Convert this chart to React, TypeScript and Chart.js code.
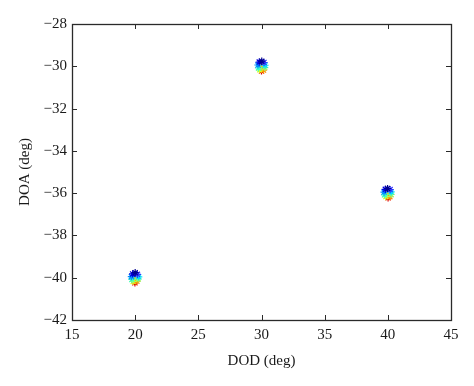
import React, { useEffect, useRef } from "react";
import { Chart, registerables } from "chart.js";

Chart.register(...registerables);

// Axis ranges / ticks
const xTickValues = [15, 20, 25, 30, 35, 40, 45];
const yTickValues = [-42, -40, -38, -36, -34, -32, -30, -28];

// One colour per estimation run (jet-like colormap)
const runColors = [
  "#00008F",
  "#0000DF",
  "#3030FF",
  "#0090FF",
  "#00DFFF",
  "#40FFBF",
  "#90FF70",
  "#DFFF20",
  "#FF9000",
  "#E00000",
  "#FFBF00",
  "#FF6000",
];

// Estimated DOD / DOA for each of the three targets, per run
const dodTarget1 = [20.0, 19.8, 20.18, 19.7, 20.28, 19.74, 20.24, 19.84, 20.14, 19.98, 20.04, 19.96];
const doaTarget1 = [-39.76, -39.82, -39.84, -39.95, -39.96, -40.08, -40.06, -40.18, -40.16, -40.24, -40.0, -39.98];
const dodTarget2 = [30.02, 29.82, 30.2, 29.72, 30.28, 29.76, 30.26, 29.86, 30.16, 30.0, 30.03, 29.97];
const doaTarget2 = [-29.76, -29.8, -29.82, -29.94, -29.95, -30.08, -30.06, -30.17, -30.18, -30.22, -30.0, -29.97];
const dodTarget3 = [39.98, 39.8, 40.18, 39.7, 40.26, 39.74, 40.26, 39.84, 40.16, 40.02, 40.02, 39.97];
const doaTarget3 = [-35.78, -35.82, -35.83, -35.95, -35.94, -36.08, -36.06, -36.16, -36.17, -36.22, -36.01, -35.97];

const FONT = "'Liberation Serif', 'Times New Roman', serif";
const TEXT = "#1a1a1a";

const fmt = (v: number) => String(v).replace("-", "\u2212");

const framePlugin = {
  id: "frame",
  afterDraw(chart: any) {
    const { ctx, chartArea } = chart;
    const { left, right, top, bottom } = chartArea;
    const xs = chart.scales.x;
    const ys = chart.scales.y;
    const tl = 5;
    ctx.save();
    ctx.strokeStyle = "#2a2a2a";
    ctx.lineWidth = 1;
    ctx.beginPath();
    xs.ticks.forEach((t: any) => {
      const px = Math.round(xs.getPixelForValue(t.value)) + 0.5;
      ctx.moveTo(px, bottom);
      ctx.lineTo(px, bottom - tl);
      ctx.moveTo(px, top);
      ctx.lineTo(px, top + tl);
    });
    ys.ticks.forEach((t: any) => {
      const py = Math.round(ys.getPixelForValue(t.value)) + 0.5;
      ctx.moveTo(left, py);
      ctx.lineTo(left + tl, py);
      ctx.moveTo(right, py);
      ctx.lineTo(right - tl, py);
    });
    ctx.stroke();
    ctx.lineWidth = 1.3;
    ctx.strokeRect(Math.round(left) + 0.5, Math.round(top) + 0.5, Math.round(right - left), Math.round(bottom - top));
    ctx.restore();
  },
};

export default function App() {
  const ref = useRef<HTMLCanvasElement | null>(null);

  useEffect(() => {
    if (!ref.current) return;
    const datasets = runColors.map((c, i) => ({
      label: `run ${i + 1}`,
      data: [
        { x: dodTarget1[i], y: doaTarget1[i] },
        { x: dodTarget2[i], y: doaTarget2[i] },
        { x: dodTarget3[i], y: doaTarget3[i] },
      ],
      pointStyle: "star" as const,
      radius: 3.6,
      borderWidth: 1.2,
      borderColor: c,
      backgroundColor: c,
      showLine: false,
    }));

    const chart = new Chart(ref.current, {
      type: "scatter",
      data: { datasets },
      options: {
        animation: false,
        responsive: true,
        maintainAspectRatio: false,
        layout: { padding: { left: 0, right: 23, top: 24, bottom: 0 } },
        plugins: { legend: { display: false }, tooltip: { enabled: false } },
        scales: {
          x: {
            type: "linear",
            min: 15,
            max: 45,
            afterBuildTicks: (s: any) => {
              s.ticks = xTickValues.map((v) => ({ value: v }));
            },
            grid: { display: false, drawTicks: false },
            border: { display: false },
            ticks: {
              padding: 6,
              color: TEXT,
              font: { family: FONT, size: 15 },
              callback: (v: any) => fmt(Number(v)),
              maxRotation: 0,
            },
            title: {
              display: true,
              text: "DOD (deg)",
              color: TEXT,
              font: { family: FONT, size: 15 },
              padding: { top: 0, bottom: 16 },
            },
            afterFit: (s: any) => {
              s.height = 66;
            },
          },
          y: {
            type: "linear",
            min: -42,
            max: -28,
            afterBuildTicks: (s: any) => {
              s.ticks = yTickValues.map((v) => ({ value: v }));
            },
            grid: { display: false, drawTicks: false },
            border: { display: false },
            ticks: {
              padding: 5,
              color: TEXT,
              font: { family: FONT, size: 15 },
              callback: (v: any) => fmt(Number(v)),
            },
            title: {
              display: true,
              text: "DOA (deg)",
              color: TEXT,
              font: { family: FONT, size: 15 },
              padding: { top: 16, bottom: 0 },
            },
            afterFit: (s: any) => {
              s.width = 72;
            },
          },
        },
      },
      plugins: [framePlugin],
    });
    return () => chart.destroy();
  }, []);

  return (
    <div
      style={{
        position: "absolute",
        left: 0,
        top: 0,
        width: 474,
        height: 386,
        background: "#fff",
      }}
    >
      <canvas ref={ref} />
    </div>
  );
}
